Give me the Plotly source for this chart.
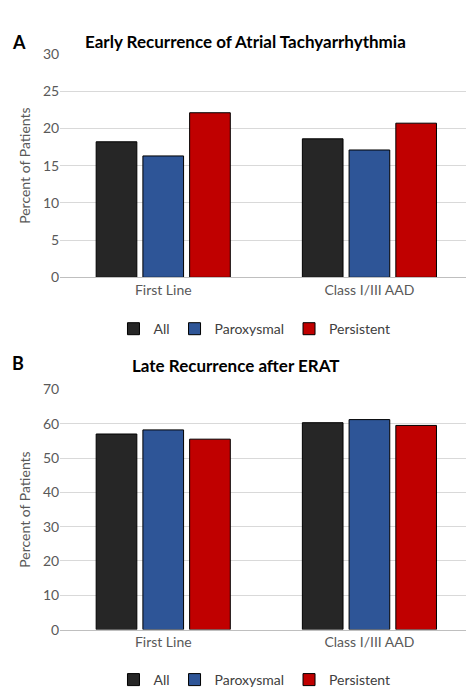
import plotly.graph_objects as go

categories = ["First Line", "Class I/III AAD"]
series = ["All", "Paroxysmal", "Persistent"]
colors = ["#262626", "#2E5597", "#C00000"]
early = {"All": [18.2, 18.6], "Paroxysmal": [16.3, 17.1], "Persistent": [22.1, 20.7]}
late = {"All": [57.0, 60.3], "Paroxysmal": [58.2, 61.2], "Persistent": [55.5, 59.5]}

fig = go.Figure()
for s, c in zip(series, colors):
    fig.add_bar(x=categories, y=early[s], name=s, marker=dict(color=c, line=dict(color="black", width=1)),
                xaxis="x", yaxis="y", legend="legend")
    fig.add_bar(x=categories, y=late[s], name=s, marker=dict(color=c, line=dict(color="black", width=1)),
                xaxis="x2", yaxis="y2", legend="legend2")

ax = dict(showgrid=False, showline=True, linecolor="#BFBFBF", ticks="", tickfont=dict(size=14, color="#595959"))
ay = dict(showgrid=True, gridcolor="#D9D9D9", zeroline=False, showline=False, tickfont=dict(size=14, color="#595959"),
          title=dict(text="Percent of Patients", font=dict(size=14, color="#595959"), standoff=8))
leg = dict(orientation="h", xanchor="center", x=0.52, font=dict(size=14, color="#404040"), bgcolor="rgba(0,0,0,0)",
           itemwidth=30, tracegroupgap=0)
fig.update_layout(
    width=474, height=688, margin=dict(l=0, r=0, t=0, b=0), paper_bgcolor="white", plot_bgcolor="white",
    font=dict(family="Lato, DejaVu Sans, sans-serif"),
    barmode="group", bargap=0.32, bargroupgap=0.13,
    xaxis=dict(ax, domain=[0.11, 0.98], anchor="y"),
    yaxis=dict(ay, domain=[0.612, 0.945], range=[0, 30], dtick=5, anchor="x"),
    xaxis2=dict(ax, domain=[0.11, 0.98], anchor="y2"),
    yaxis2=dict(ay, domain=[0.087, 0.445], range=[0, 70], dtick=10, anchor="x2"),
    legend=dict(leg, y=1 - 320 / 688, yanchor="middle"),
    legend2=dict(leg, y=1 - 680 / 688, yanchor="middle"),
    annotations=[
        dict(text="<b>A</b>", x=0.005, y=1 - 12 / 688, xref="paper", yref="paper", showarrow=False, xanchor="left", font=dict(size=18, color="black")),
        dict(text="<b>Early Recurrence of Atrial Tachyarrhythmia</b>", x=0.5, y=1 - 12 / 688, xref="paper", yref="paper", showarrow=False, font=dict(size=17, color="black")),
        dict(text="<b>B</b>", x=0.005, y=1 - 355 / 688, xref="paper", yref="paper", showarrow=False, xanchor="left", font=dict(size=18, color="black")),
        dict(text="<b>Late Recurrence after ERAT</b>", x=0.48, y=1 - 357 / 688, xref="paper", yref="paper", showarrow=False, font=dict(size=17, color="black")),
    ],
)
fig.write_html("out.html")
